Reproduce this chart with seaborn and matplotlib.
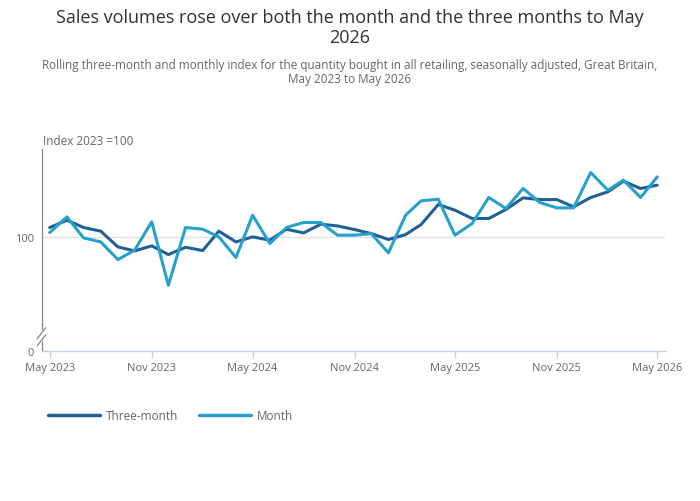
import matplotlib
matplotlib.use("Agg")
import matplotlib.pyplot as plt
import seaborn as sns
import pandas as pd

# Monthly dates, May 2023 to May 2026
months = pd.date_range("2023-05-01", "2026-05-01", freq="MS")

# Index values
three_month = [108.2, 114.6, 108.2, 105.0, 91.2, 87.7, 92.1, 84.5, 90.9, 88.0,
               105.0, 95.6, 100.0, 97.1, 106.7, 103.5, 111.1, 109.6, 106.4,
               102.9, 97.7, 102.0, 110.8, 128.4, 123.4, 116.1, 116.1, 124.0,
               134.2, 132.7, 132.7, 126.3, 134.5, 139.5, 148.8, 142.4, 145.3]
month = [103.8, 117.5, 99.1, 95.6, 80.1, 88.3, 113.2, 57.6, 108.2, 106.7,
         100.0, 81.9, 119.0, 94.2, 108.2, 112.6, 112.6, 101.5, 101.5,
         102.9, 86.0, 119.0, 131.6, 133.0, 101.5, 111.7, 134.5, 124.9,
         142.4, 130.1, 125.4, 125.4, 156.4, 140.9, 149.7, 134.5, 152.6]

tick_dates = pd.to_datetime(["2023-05-01", "2023-11-01", "2024-05-01",
                             "2024-11-01", "2025-05-01", "2025-11-01", "2026-05-01"])
tick_labels = ["May 2023", "Nov 2023", "May 2024", "Nov 2024",
               "May 2025", "Nov 2025", "May 2026"]

df = pd.DataFrame({"date": list(months) * 2,
                   "value": three_month + month,
                   "series": ["Three-month"] * len(months) + ["Month"] * len(months)})

sns.set_theme(style="white")
plt.rcParams["font.family"] = ["Open Sans", "DejaVu Sans"]

dark = "#206095"
light = "#27a0cc"
grey = "#666666"
axis_col = "#c5d1e3"

fig = plt.figure(figsize=(7, 5.02), dpi=100)
ax = fig.add_axes([0.06, 1 - 352 / 502, 0.89, 202 / 502])

sns.lineplot(data=df, x="date", y="value", hue="series",
             palette={"Three-month": dark, "Month": light},
             linewidth=2.2, ax=ax, legend=False)

ax.set_ylim(0, 177)
ax.set_xlim(pd.Timestamp("2023-04-17"), pd.Timestamp("2026-05-15"))
ax.set_yticks([0, 100])
ax.set_yticklabels(["0", "100"], color=grey, fontsize=8)
ax.axhline(100, color="#e2e2e2", linewidth=1, zorder=0)
ax.set_xticks(tick_dates)
ax.set_xticklabels(tick_labels, color=grey, fontsize=8)
ax.tick_params(axis="x", length=5, color=axis_col, width=1, pad=3, bottom=True)
ax.tick_params(axis="y", length=0, pad=6)
ax.set_xlabel("")
ax.set_ylabel("")

for side in ["top", "right", "left"]:
    ax.spines[side].set_visible(False)
ax.spines["bottom"].set_color(axis_col)
ax.spines["bottom"].set_linewidth(1)

# Broken y axis line
tr = ax.transAxes
ax.plot([0, 0], [1, 0.11], transform=tr, color="#888888", lw=0.9, clip_on=False)
ax.plot([0, 0], [0.05, 0], transform=tr, color="#888888", lw=0.9, clip_on=False)
ax.plot([-0.008, 0.006], [0.06, 0.115], transform=tr, color="#888888", lw=0.9, clip_on=False)
ax.plot([-0.008, 0.006], [0.025, 0.08], transform=tr, color="#888888", lw=0.9, clip_on=False)

# Titles
fig.text(0.5, 1 - 28 / 502, "Sales volumes rose over both the month and the three months to May\n2026",
         ha="center", va="center", fontsize=13, color="#323132", linespacing=1.2)
fig.text(0.5, 1 - 72.5 / 502,
         "Rolling three-month and monthly index for the quantity bought in all retailing, seasonally adjusted, Great Britain,\nMay 2023 to May 2026",
         ha="center", va="center", fontsize=8.5, color=grey, linespacing=1.2)
fig.text(43 / 700, 1 - 142 / 502, "Index 2023 =100", ha="left", va="center", fontsize=8.5, color=grey)

# Legend
fig.add_artist(plt.Line2D([48 / 700, 100 / 700], [1 - 416 / 502] * 2, color=dark, lw=2.5))
fig.text(106 / 700, 1 - 416 / 502, "Three-month", ha="left", va="center", fontsize=8.5, color=grey)
fig.add_artist(plt.Line2D([199 / 700, 251 / 700], [1 - 416 / 502] * 2, color=light, lw=2.5))
fig.text(257 / 700, 1 - 416 / 502, "Month", ha="left", va="center", fontsize=8.5, color=grey)

fig.savefig("out.png", dpi=100)
